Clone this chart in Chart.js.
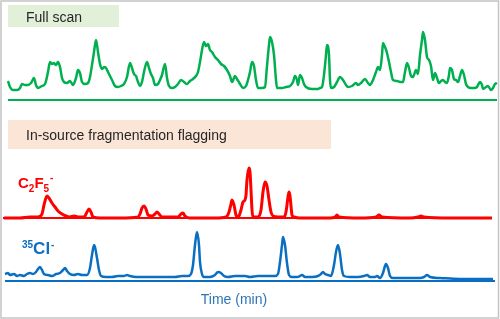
<!DOCTYPE html>
<html>
<head>
<meta charset="utf-8">
<script src="https://cdn.jsdelivr.net/npm/chart.js@4/dist/chart.umd.min.js"></script>
<style>
  html, body { margin: 0; padding: 0; background: #ffffff; }
  #wrap { width: 500px; height: 319px; }
</style>
</head>
<body>
<div id="wrap"><canvas id="c" width="500" height="319"></canvas></div>
<script>
// ---- Data (time in minutes, signal in relative units above each trace's baseline) ----
const fullScanTime = [0.8,1.0,1.3,1.7,2.0,2.2,2.5,2.8,3.1,3.4,3.6,3.8,4.2,4.5,4.8,5.0,5.2,5.4,5.6,5.8,6.0,6.2,6.4,6.7,7.0,7.3,7.6,7.8,8.0,8.2,8.5,8.8,9.0,9.2,9.4,9.6,9.8,10.0,10.2,10.4,10.6,10.8,11.0,11.2,11.5,11.8,12.1,12.4,12.7,13.0,13.2,13.4,13.6,13.8,14.0,14.2,14.4,14.7,14.9,15.1,15.3,15.5,15.8,16.0,16.2,16.5,16.7,16.9,17.2,17.5,17.8,18.1,18.4,18.7,19.0,19.3,19.6,19.8,20.0,20.2,20.4,20.6,20.8,21.0,21.2,21.5,21.8,22.1,22.4,22.7,23.0,23.2,23.5,23.7,24.0,24.3,24.6,24.8,25.0,25.2,25.4,25.6,25.8,26.2,26.5,26.7,26.9,27.0,27.2,27.4,27.6,27.7,28.2,28.6,29.0,29.3,29.5,29.7,29.8,30.0,30.2,30.4,30.6,31.2,31.8,32.0,32.2,32.4,32.6,32.7,32.9,33.0,33.1,33.4,33.7,34.0,34.3,34.6,34.8,35.2,35.6,35.8,36.1,36.5,36.8,37.0,37.3,37.6,37.8,38.0,38.2,38.3,38.5,38.7,38.9,39.1,39.3,39.7,40.0,40.3,40.5,40.7,40.9,41.1,41.3,41.6,41.8,42.0,42.2,42.3,42.5,42.7,42.9,43.1,43.3,43.5,43.7,43.9,44.1,44.3,44.5,44.7,44.9,45.0,45.2,45.4,45.6,45.8,46.0,46.2,46.4,46.6,46.8,47.1,47.4,47.7,48.0,48.2,48.3,48.6,48.8,49.1,49.3,49.5,49.7];
const fullScanSignal = [19,13,10,10,12,16,15,15,17,22,15,12,14,16,28,38,36,37,35,38,33,22,18,17,19,15,22,30,27,18,16,17,23,35,48,60,48,36,31,33,32,28,24,20,14,13,14,16,23,37,32,26,24,18,14,18,28,38,32,26,22,15,16,20,25,36,22,14,12,13,16,20,18,16,19,21,24,28,38,50,58,54,56,50,48,43,40,36,34,30,24,18,24,21,16,12,14,20,28,38,34,20,12,12,13,34,55,63,58,45,20,12,12,13,14,18,24,20,15,25,22,16,13,11,11,12,13,25,45,55,45,20,12,13,18,23,20,15,13,14,17,15,17,21,17,15,20,28,33,30,45,57,53,47,38,28,20,19,18,18,28,37,32,24,23,30,26,45,60,68,60,43,40,34,20,27,22,17,19,20,18,17,25,32,30,21,20,18,24,30,25,16,13,12,12,13,18,15,11,13,14,10,12,16,17];

const c2f5Time = [0.4,2.0,3.0,3.8,4.2,4.4,4.7,4.9,5.2,5.5,5.8,6.2,6.6,7.0,7.4,7.8,8.4,8.7,8.9,9.1,9.3,10.0,12.0,13.8,14.0,14.2,14.4,14.6,14.8,15.2,15.5,15.7,15.9,16.2,17.0,17.8,18.1,18.3,18.5,19.0,20.5,21.5,22.6,22.9,23.1,23.2,23.4,23.6,23.7,23.9,24.1,24.3,24.5,24.6,24.7,24.9,25.0,25.1,25.2,25.3,25.8,26.1,26.3,26.5,26.7,26.9,27.1,27.3,27.8,28.4,28.6,28.8,28.9,29.0,29.1,29.2,29.4,30.0,33.0,33.5,33.7,33.9,36.0,37.6,37.9,38.2,41.0,41.8,42.1,42.4,45.0,49.2];
const c2f5Signal = [0,0,1,1,4,13,22,20,15,11,7,4,2,1,2,1,1,6,9,6,1,0,0,1,4,10,12,9,3,2,4,6,4,1,1,1,4,5,2,0,0,0,1,6,14,18,13,3,1,2,8,16,18,23,38,50,46,28,8,1,1,8,26,36,32,18,6,2,1,1,6,21,26,22,12,3,1,0,0,1,3,1,0,1,3,1,0,1,2,1,0,0];

const cl35Time = [0.5,0.8,1.0,1.4,1.7,2.0,2.4,2.7,3.0,3.3,3.6,3.8,4.0,4.2,4.4,4.8,5.2,5.6,6.0,6.3,6.5,6.7,7.0,7.4,7.8,8.2,8.7,9.0,9.2,9.4,9.5,9.7,9.9,10.1,10.6,11.2,11.8,12.4,12.7,13.0,13.6,14.5,15.5,16.5,17.5,18.2,18.8,19.1,19.3,19.5,19.7,19.9,20.0,20.2,20.4,21.0,21.5,21.8,22.1,22.4,22.8,23.5,24.0,24.5,25.0,25.8,26.8,27.5,27.8,28.0,28.2,28.3,28.5,28.7,28.9,29.2,29.7,30.0,30.2,30.5,31.2,31.8,32.1,32.3,32.5,32.8,33.1,33.4,33.6,33.8,34.0,34.2,34.4,35.0,35.8,36.4,36.7,37.0,37.5,37.7,38.0,38.3,38.5,38.6,38.8,39.0,39.3,40.0,41.0,42.0,42.4,42.7,43.0,44.0,46.0,48.0,49.3];
const cl35Signal = [7,8,6,7,5,6,5,7,8,7,9,12,14,11,7,6,5,7,8,11,13,10,7,6,7,6,6,13,26,36,34,23,11,5,4,4,5,5,6,5,4,4,4,4,4,5,5,7,16,36,49,36,19,7,4,4,6,9,8,5,4,5,5,5,4,5,5,5,7,19,36,44,36,18,6,4,4,5,6,4,4,5,7,9,7,6,5,16,29,36,27,11,5,4,4,5,6,4,4,5,3,8,15,17,13,5,3,3,3,3,4,6,4,3,2,2,2];

// baseline (axis line) extents for each panel, in minutes
const fullScanAxis = [0.8, 49.7];
const c2f5Axis = [0.3, 49.2];
const cl35Axis = [0.5, 49.5];

// label texts
const panelTitles = ["Full scan", "In-source fragmentation flagging"];
const xTitle = "Time (min)";

// ---- helpers ----
function pts(t, v) { return t.map((x, i) => ({ x: x, y: v[i] })); }
function axisPts(r) { return [{ x: r[0], y: 0 }, { x: r[1], y: 0 }]; }

const GREEN = '#00b050', RED = '#ff0000', BLUE = '#0a6fc2';
const FONT = '"Liberation Sans", Arial, sans-serif';

const decor = {
  id: 'decor',
  beforeDatasetsDraw(chart) {
    const ctx = chart.ctx;
    ctx.save();
    // outer frame
    ctx.strokeStyle = '#c4c4c4';
    ctx.lineWidth = 1.5;
    ctx.strokeRect(1, 1, 497.5, 317);
    // label boxes
    ctx.fillStyle = '#e2efd9';
    ctx.fillRect(8, 5, 111, 22);
    ctx.fillStyle = '#fbe5d6';
    ctx.fillRect(8, 120, 323, 29);
    ctx.restore();
  },
  afterDatasetsDraw(chart) {
    const ctx = chart.ctx;
    ctx.save();
    ctx.textBaseline = 'alphabetic';
    ctx.textAlign = 'left';
    ctx.fillStyle = '#262626';
    ctx.font = '14px ' + FONT;
    ctx.fillText(panelTitles[0], 26, 22);
    ctx.fillText(panelTitles[1], 26, 140);

    // C2F5-
    function runs(parts, x, y, color) {
      ctx.fillStyle = color;
      let cx = x;
      parts.forEach(p => {
        ctx.font = 'bold ' + p.size + 'px ' + FONT;
        ctx.fillText(p.t, cx, y + p.dy);
        cx += ctx.measureText(p.t).width + (p.gap || 0);
      });
    }
    runs([
      { t: 'C', size: 15, dy: 0 },
      { t: '2', size: 10, dy: 4 },
      { t: 'F', size: 15, dy: 0 },
      { t: '5', size: 10, dy: 4, gap: 1 },
      { t: '-', size: 10, dy: -7 }
    ], 18, 188, RED);

    runs([
      { t: '35', size: 10, dy: -6 },
      { t: 'Cl', size: 17, dy: 0, gap: 1 },
      { t: '-', size: 10, dy: -6 }
    ], 22, 254, BLUE);

    // x axis title
    ctx.font = '14px ' + FONT;
    ctx.fillStyle = '#2e75b6';
    ctx.textAlign = 'center';
    ctx.fillText(xTitle, 234, 304);
    ctx.restore();
  }
};

const common = { pointRadius: 0, fill: false, cubicInterpolationMode: 'monotone' };

new Chart(document.getElementById('c'), {
  type: 'line',
  data: {
    datasets: [
      Object.assign({ label: 'Full scan axis', data: axisPts(fullScanAxis), borderColor: GREEN, borderWidth: 2, yAxisID: 'yG' }, common),
      Object.assign({ label: 'C2F5- axis', data: axisPts(c2f5Axis), borderColor: RED, borderWidth: 2, yAxisID: 'yR' }, common),
      Object.assign({ label: '35Cl- axis', data: axisPts(cl35Axis), borderColor: BLUE, borderWidth: 2, yAxisID: 'yB' }, common),
      Object.assign({ label: 'Full scan', data: pts(fullScanTime, fullScanSignal), borderColor: GREEN, borderWidth: 2.5, yAxisID: 'yG' }, common),
      Object.assign({ label: 'C2F5-', data: pts(c2f5Time, c2f5Signal), borderColor: RED, borderWidth: 3, yAxisID: 'yR' }, common),
      Object.assign({ label: '35Cl-', data: pts(cl35Time, cl35Signal), borderColor: BLUE, borderWidth: 2.5, yAxisID: 'yB' }, common)
    ]
  },
  options: {
    responsive: false,
    animation: false,
    devicePixelRatio: 1,
    layout: { padding: 0 },
    plugins: { legend: { display: false }, tooltip: { enabled: false }, title: { display: false } },
    scales: {
      x: { type: 'linear', min: 0, max: 50, display: false },
      yG: { type: 'linear', min: -219, max: 100, display: false },
      yR: { type: 'linear', min: -101, max: 218, display: false },
      yB: { type: 'linear', min: -38, max: 281, display: false }
    }
  },
  plugins: [decor]
});
</script>
</body>
</html>
